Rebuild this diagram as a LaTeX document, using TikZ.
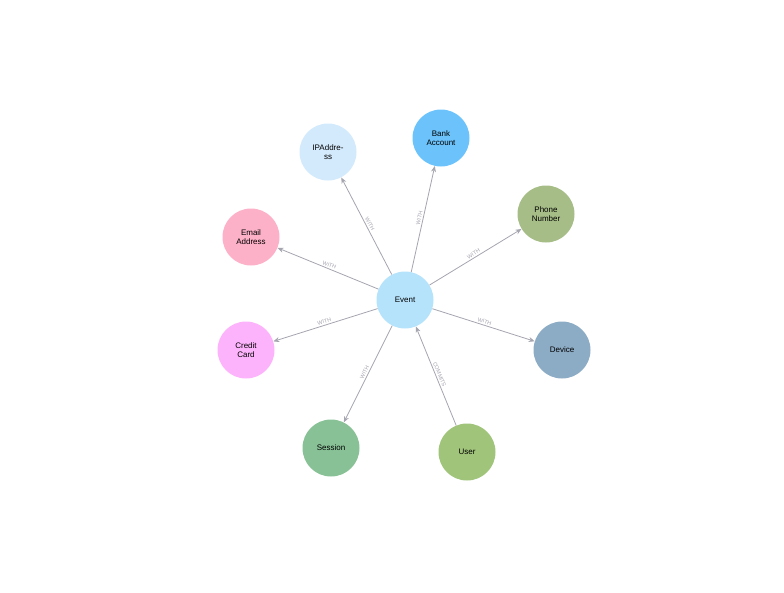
\documentclass[tikz,border=0pt]{standalone}
\usepackage{fontspec}
\setmainfont{Liberation Sans}
\usetikzlibrary{arrows.meta}
\definecolor{cevent}{HTML}{B5E3FB}
\definecolor{cip}{HTML}{D3EAFC}
\definecolor{cbank}{HTML}{6CC3FC}
\definecolor{cphone}{HTML}{A6BD87}
\definecolor{cemail}{HTML}{FDB1C9}
\definecolor{cdevice}{HTML}{8CABC5}
\definecolor{ccard}{HTML}{FDB3FB}
\definecolor{csession}{HTML}{88C196}
\definecolor{cuser}{HTML}{A0C47A}
\definecolor{cedge}{HTML}{A5A5B0}
\begin{document}
\begin{tikzpicture}
      [   x=1pt,y=-1pt,
          gnode/.style={fill=#1,minimum size=57pt,inner sep=0pt,circle,
              font=\fontsize{8}{9}\selectfont,align=center},
          rel/.style={draw=cedge,line width=0.8pt,-{Stealth[length=6pt,width=5pt]}},
          rlabel/.style={midway,sloped,above,inner sep=1.5pt,text=cedge,
              font=\fontsize{5.5}{6}\selectfont},
      ]
          \useasboundingbox (0,0) rectangle (784,592);
          \node[gnode=cevent] (event) at (405,300) {Event};
          \node[gnode=cip] (ip) at (328,152) {IPAddre-\\ss};
          \node[gnode=cbank] (bank) at (441,138) {Bank\\Account};
          \node[gnode=cphone] (phone) at (546,214) {Phone\\Number};
          \node[gnode=cemail] (email) at (251,237) {Email\\Address};
          \node[gnode=cdevice] (device) at (562,350) {Device};
          \node[gnode=ccard] (card) at (246,350) {Credit\\Card};
          \node[gnode=csession] (session) at (331,448) {Session};
          \node[gnode=cuser] (user) at (467,452) {User};

          \foreach \t in {ip,bank,phone,email,device,card,session}
              \draw[rel] (event) -- (\t) node[rlabel] {WITH};
          \draw[rel] (user) -- (event) node[rlabel] {COMMITS};
    \end{tikzpicture}
\end{document}
